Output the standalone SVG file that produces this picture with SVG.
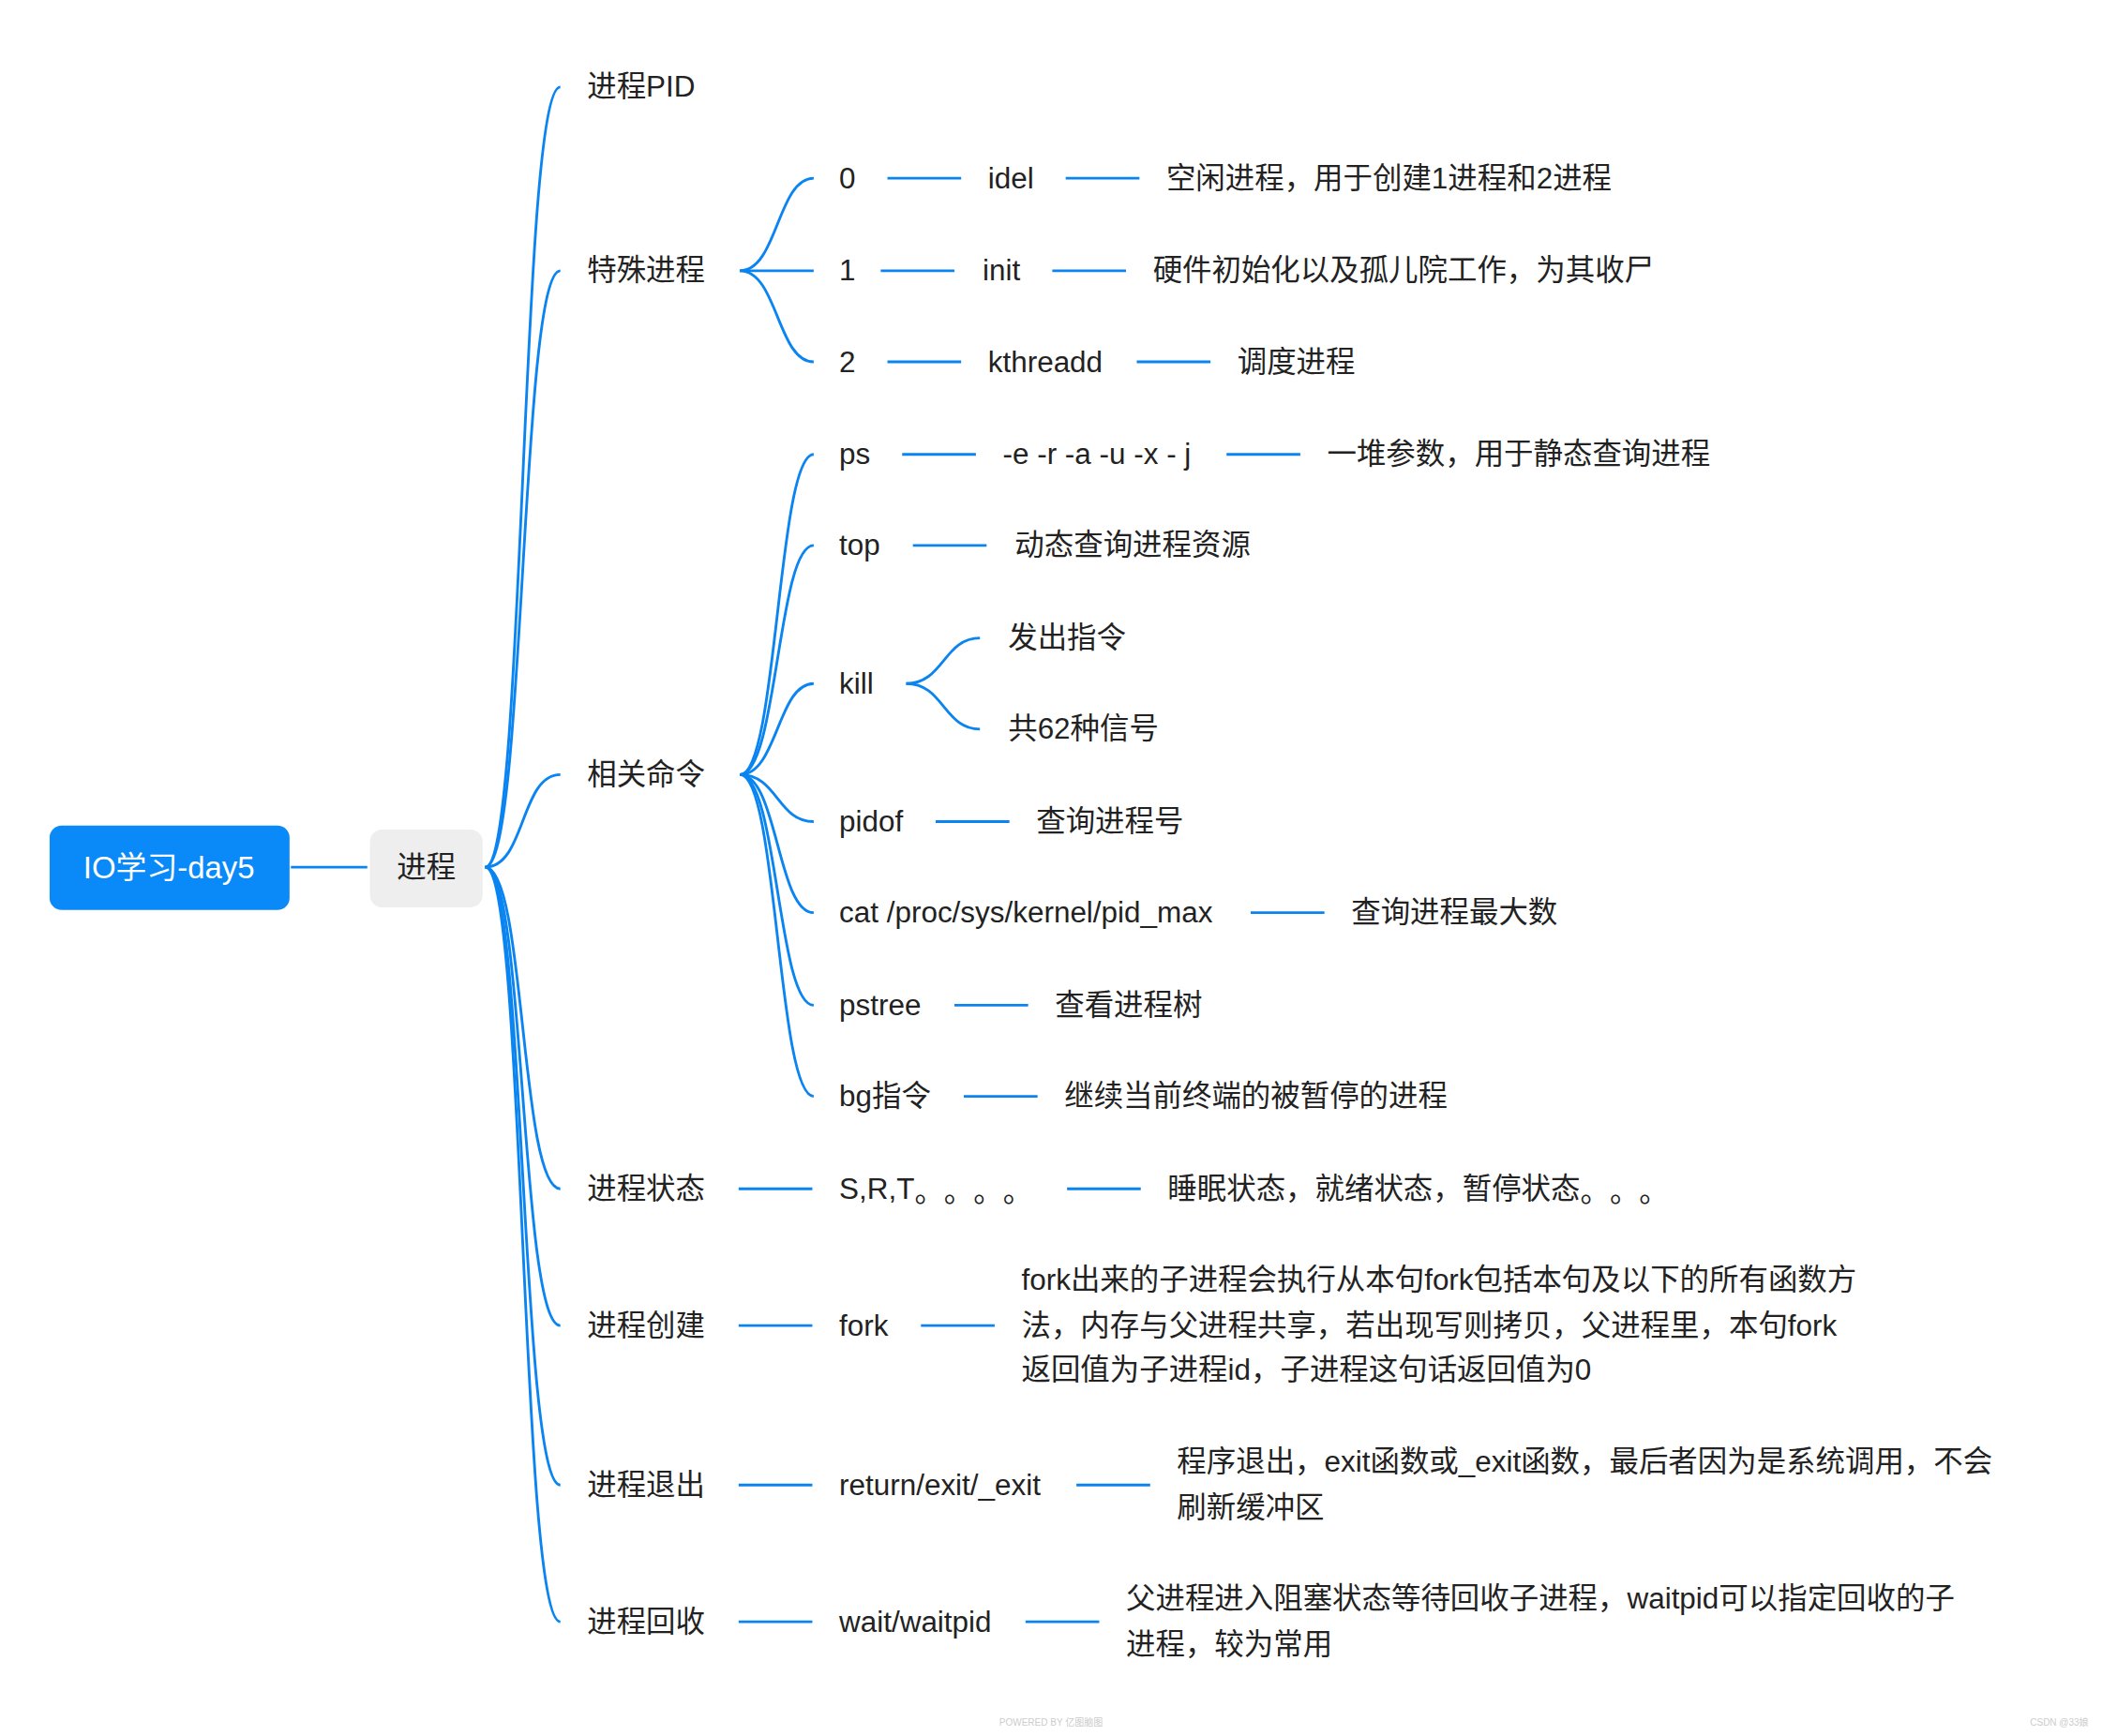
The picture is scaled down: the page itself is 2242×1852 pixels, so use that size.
<svg xmlns="http://www.w3.org/2000/svg" width="2242" height="1852" viewBox="0 0 2242 1852">
<style>
text{font-family:"Liberation Sans","Noto Sans CJK SC",sans-serif;font-size:22px;fill:#222;dominant-baseline:central}
.cjk{font-family:"Noto Sans CJK SC",sans-serif;letter-spacing:11px}
.c path,.c line{stroke:#0a84f0;stroke-width:2;fill:none}
.wm{font-size:7px;fill:#ccc}
</style>
<rect width="2242" height="1852" fill="#fff"/>
<g transform="scale(1.4298)">
<g class="c" id="connectors">
<line x1="217" y1="647" x2="274" y2="647"/>
<path d="M362 647 C392 647 388 65 418 65"/>
<path d="M362 647 C392 647 388 202 418 202"/>
<path d="M362 647 C392 647 388 578 418 578"/>
<path d="M362 647 C392 647 388 887 418 887"/>
<path d="M362 647 C392 647 388 989 418 989"/>
<path d="M362 647 C392 647 388 1108 418 1108"/>
<path d="M362 647 C392 647 388 1210 418 1210"/>
<path d="M552 202 C580 202 580 133 607 133"/>
<line x1="552" y1="202" x2="607" y2="202"/>
<path d="M552 202 C580 202 580 270 607 270"/>
<path d="M552 578 C580 578 580 339 607 339"/>
<path d="M552 578 C580 578 580 407 607 407"/>
<path d="M552 578 C580 578 580 510 607 510"/>
<path d="M552 578 C580 578 580 613 607 613"/>
<path d="M552 578 C580 578 580 681 607 681"/>
<path d="M552 578 C580 578 580 750 607 750"/>
<path d="M552 578 C580 578 580 818 607 818"/>
<path d="M676 510 C704 510 704 476 731 476"/>
<path d="M676 510 C704 510 704 544 731 544"/>
<line x1="662" y1="133" x2="717" y2="133"/><line x1="795" y1="133" x2="850" y2="133"/>
<line x1="657" y1="202" x2="712" y2="202"/><line x1="785" y1="202" x2="840" y2="202"/>
<line x1="662" y1="270" x2="717" y2="270"/><line x1="848" y1="270" x2="903" y2="270"/>
<line x1="673" y1="339" x2="728" y2="339"/><line x1="915" y1="339" x2="970" y2="339"/>
<line x1="681" y1="407" x2="736" y2="407"/>
<line x1="698" y1="613" x2="753" y2="613"/>
<line x1="933" y1="681" x2="988" y2="681"/>
<line x1="712" y1="750" x2="767" y2="750"/>
<line x1="719" y1="818" x2="774" y2="818"/>
<line x1="551" y1="887" x2="606" y2="887"/><line x1="796" y1="887" x2="851" y2="887"/>
<line x1="551" y1="989" x2="606" y2="989"/><line x1="687" y1="989" x2="742" y2="989"/>
<line x1="551" y1="1108" x2="606" y2="1108"/><line x1="803" y1="1108" x2="858" y2="1108"/>
<line x1="551" y1="1210" x2="606" y2="1210"/><line x1="765" y1="1210" x2="820" y2="1210"/>
</g>
<g id="root"><rect x="37" y="616" width="179" height="63" rx="9" fill="#0a8af8"/><text x="126" y="647" text-anchor="middle" style="fill:#fff;font-size:23px">IO学习-day5</text></g>
<g id="jincheng"><rect x="276" y="619" width="84" height="58" rx="9" fill="#eeeeee"/><text x="318" y="647" text-anchor="middle">进程</text></g>
<g id="l1"><text x="438" y="65">进程PID</text><text x="438" y="202">特殊进程</text><text x="438" y="578">相关命令</text><text x="438" y="887">进程状态</text><text x="438" y="989">进程创建</text><text x="438" y="1108">进程退出</text><text x="438" y="1210">进程回收</text></g>
<g id="special"><text x="626" y="133">0</text><text x="737" y="133">idel</text><text x="870" y="133">空闲进程，用于创建1进程和2进程</text>
<text x="626" y="202">1</text><text x="733" y="202">init</text><text x="860" y="202">硬件初始化以及孤儿院工作，为其收尸</text>
<text x="626" y="270">2</text><text x="737" y="270">kthreadd</text><text x="923" y="270">调度进程</text></g>
<g id="cmds"><text x="626" y="339">ps</text><text x="748" y="339">-e -r -a -u -x - j</text><text x="990" y="339">一堆参数，用于静态查询进程</text>
<text x="626" y="407">top</text><text x="757" y="407">动态查询进程资源</text>
<text x="626" y="510">kill</text><text x="752" y="476">发出指令</text><text x="752" y="544">共62种信号</text>
<text x="626" y="613">pidof</text><text x="773" y="613">查询进程号</text>
<text x="626" y="681">cat /proc/sys/kernel/pid_max</text><text x="1008" y="681">查询进程最大数</text>
<text x="626" y="750">pstree</text><text x="787" y="750">查看进程树</text>
<text x="626" y="818">bg指令</text><text x="794" y="818">继续当前终端的被暂停的进程</text></g>
<g id="state"><text x="626" y="887">S,R,T<tspan class="cjk">。。。。</tspan></text><text x="871" y="887">睡眠状态，就绪状态，暂停状态<tspan class="cjk">。。。</tspan></text></g>
<g id="create"><text x="626" y="989">fork</text><text x="762" y="955">fork出来的子进程会执行从本句fork包括本句及以下的所有函数方</text><text x="762" y="989">法，内存与父进程共享，若出现写则拷贝，父进程里，本句fork</text><text x="762" y="1022">返回值为子进程id，子进程这句话返回值为0</text></g>
<g id="exit"><text x="626" y="1108">return/exit/_exit</text><text x="878" y="1091">程序退出，exit函数或_exit函数，最后者因为是系统调用，不会</text><text x="878" y="1125">刷新缓冲区</text></g>
<g id="wait"><text x="626" y="1210">wait/waitpid</text><text x="840" y="1193">父进程进入阻塞状态等待回收子进程，waitpid可以指定回收的子</text><text x="840" y="1227">进程，较为常用</text></g>
<text class="wm" x="784" y="1285" text-anchor="middle">POWERED BY 亿图脑图</text>
<text class="wm" x="1558" y="1285" text-anchor="end">CSDN @33娘</text>
</g>
</svg>
